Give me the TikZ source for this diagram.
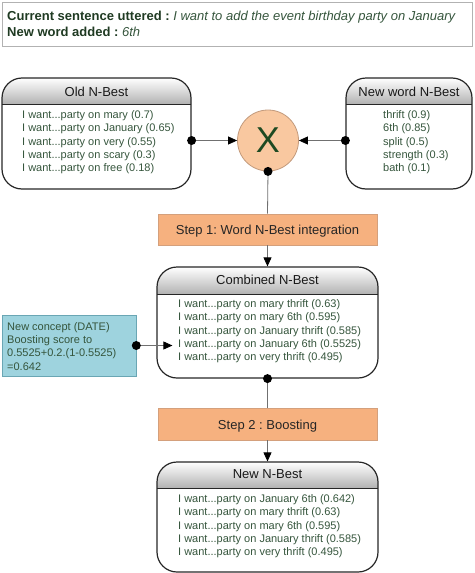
\documentclass[tikz,border=0pt]{standalone}
\usepackage{fontspec}
\setmainfont{Liberation Sans}
\usetikzlibrary{arrows.meta}
\frenchspacing
\definecolor{txtgreen}{HTML}{35553C}
\definecolor{hdrgreen}{HTML}{1F3A22}
\definecolor{stepfill}{HTML}{F6B17F}
\definecolor{stepdraw}{HTML}{D4A07C}
\definecolor{circfill}{HTML}{F9C8A0}
\definecolor{circdraw}{HTML}{C29A7C}
\definecolor{bluefill}{HTML}{9ED3DE}
\definecolor{bluedraw}{HTML}{6AA6B4}
\definecolor{linegray}{HTML}{707070}
\definecolor{xgreen}{HTML}{1E4A22}
\tikzset{
  nbox/.style={draw=black!85, line width=1.2pt, rounded corners=20pt, inner sep=0pt},
  hdrshade/.style={top color=white, bottom color=black!30},
  titletxt/.style={font=\fontsize{13}{15}\selectfont, text=black!90, inner sep=0pt, anchor=base},
  bodytxt/.style={font=\fontsize{11}{13.3}\selectfont, text=txtgreen, align=left, anchor=north west, inner sep=0pt},
  stepbox/.style={draw=stepdraw, fill=stepfill, line width=0.6pt, inner sep=0pt},
  steptxt/.style={font=\fontsize{13}{15}\selectfont, text=black!85, inner sep=0pt, anchor=base},
  conn/.style={draw=linegray, line width=0.8pt},
  arr/.style={conn, -{Triangle[length=9pt,width=8pt,color=black]}},
  enddot/.style={fill=black}
}
\begin{document}
\begin{tikzpicture}[x=1pt,y=-1pt]
\useasboundingbox (0,0) rectangle (474,573);
% top header
\node[draw=black!30, line width=1pt, minimum width=470pt, minimum height=44pt, inner sep=0pt] (head) at (237,24) {};
\node[anchor=base west, inner sep=0pt, font=\fontsize{13}{15}\selectfont, text=hdrgreen] (l1) at (7,20)
  {\textbf{Current sentence uttered :} {\color{txtgreen}\itshape I want to add the event birthday party on January}};
\node[anchor=base west, inner sep=0pt, font=\fontsize{13}{15}\selectfont, text=hdrgreen] (l2) at (7,36)
  {\textbf{New word added :} {\color{txtgreen}\itshape 6th}};

% Old N-Best
\begin{scope}
\clip[rounded corners=20pt] (2,78) rectangle (191,189);
\shade[hdrshade] (2,78) rectangle (191,104);
\end{scope}
\node[nbox, minimum width=189pt, minimum height=111pt] (old) at (96.5,133.5) {};
\draw[black!85, line width=1pt] (2,104) -- (191,104);
\node[titletxt] (oldt) at (96.5,96) {Old N-Best};
\node[bodytxt] (oldb) at (22,110.3) {I want...party on mary (0.7)\\I want...party on January (0.65)\\I want...party on very (0.55)\\I want...party on scary (0.3)\\I want...party on free (0.18)};

% New word N-Best
\begin{scope}
\clip[rounded corners=20pt] (346,78) rectangle (472,189);
\shade[hdrshade] (346,78) rectangle (472,104);
\end{scope}
\node[nbox, minimum width=126pt, minimum height=111pt] (nw) at (409,133.5) {};
\draw[black!85, line width=1pt] (346,104) -- (472,104);
\node[titletxt] (nwt) at (409,96) {New word N-Best};
\node[bodytxt] (nwb) at (383,110.3) {thrift (0.9)\\6th (0.85)\\split (0.5)\\strength (0.3)\\bath (0.1)};

% circle
\node[circle, draw=circdraw, fill=circfill, line width=0.8pt, minimum size=61pt, inner sep=0pt, font=\fontsize{36}{40}\selectfont, text=xgreen] (X) at (268,140.5) {X};

% Step 1
\node[stepbox, minimum width=219pt, minimum height=31pt] (s1) at (267.5,229.5) {};
\node[steptxt] (s1t) at (267.5,234.5) {Step 1: Word N-Best integration};

% Combined N-Best
\begin{scope}
\clip[rounded corners=20pt] (157,267) rectangle (378,378);
\shade[hdrshade] (157,267) rectangle (378,294);
\end{scope}
\node[nbox, minimum width=221pt, minimum height=111pt] (comb) at (267.5,322.5) {};
\draw[black!85, line width=1pt] (157,294) -- (378,294);
\node[titletxt] (combt) at (267.5,284.5) {Combined N-Best};
\node[bodytxt] (combb) at (178,299.5) {I want...party on mary thrift (0.63)\\I want...party on mary 6th (0.595)\\I want...party on January thrift (0.585)\\I want...party on January 6th (0.5525)\\I want...party on very thrift (0.495)};

% blue box
\node[draw=bluedraw, fill=bluefill, line width=0.6pt, minimum width=134pt, minimum height=61pt, inner sep=0pt] (blue) at (69,345.5) {};
\node[bodytxt] (blueb) at (7,322) {New concept (DATE)\\Boosting score to\\0.5525+0.2.(1-0.5525)\\=0.642};

% Step 2
\node[stepbox, minimum width=219pt, minimum height=32pt] (s2) at (267.5,424) {};
\node[steptxt] (s2t) at (267.5,429) {Step 2 : Boosting};

% New N-Best
\begin{scope}
\clip[rounded corners=20pt] (157,462) rectangle (378,572);
\shade[hdrshade] (157,462) rectangle (378,488);
\end{scope}
\node[nbox, minimum width=221pt, minimum height=110pt] (newnb) at (267.5,517) {};
\draw[black!85, line width=1pt] (157,488) -- (378,488);
\node[titletxt] (newt) at (267.5,478.5) {New N-Best};
\node[bodytxt] (newb) at (178,494.5) {I want...party on January 6th (0.642)\\I want...party on mary thrift (0.63)\\I want...party on mary 6th (0.595)\\I want...party on January thrift (0.585)\\I want...party on very thrift (0.495)};

% connectors
\draw[arr] (old.east |- X) -- (X.west);
\fill[enddot] (old.east |- X) circle (4.5pt);
\draw[arr] (nw.west |- X) -- (X.east);
\fill[enddot] (nw.west |- X) circle (4.5pt);
\draw[conn] (X.south) -- (s1.north);
\fill[enddot] (X.south) circle (4.5pt);
\draw[arr] (s1.south) -- (comb.north);
\draw[conn] (comb.south) -- (s2.north);
\fill[enddot] (comb.south) circle (4.5pt);
\draw[arr] (s2.south) -- (newnb.north);
\draw[arr] (blue.east) -- ([xshift=16pt]comb.west |- blue.east);
\fill[enddot] (blue.east) circle (4.5pt);
\end{tikzpicture}
\end{document}
